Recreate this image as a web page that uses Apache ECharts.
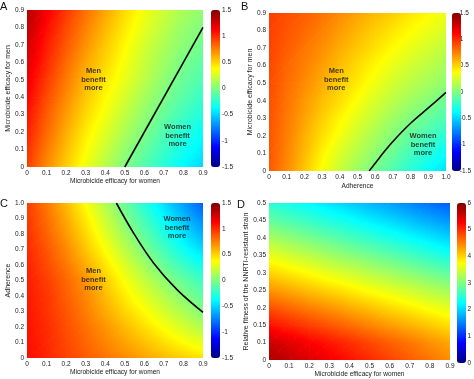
<!DOCTYPE html>
<html><head><meta charset="utf-8">
<script src="https://cdn.jsdelivr.net/npm/echarts@6/dist/echarts.min.js"></script>
<style>html,body{margin:0;padding:0;background:#fff}#c{width:474px;height:379px}</style>
</head><body><div id="c"></div>
<script>
// ---------- DATA (values read at grid nodes) ----------
// Panel A: x = microbicide efficacy for women, y = microbicide efficacy for men
const A_x = [0,0.1,0.2,0.3,0.4,0.5,0.6,0.7,0.8,0.9];
const A_y = [0,0.1,0.2,0.3,0.4,0.5,0.6,0.7,0.8,0.9];
const A_values = [
 [0.95,0.72,0.52,0.33,0.16,0.00,-0.14,-0.27,-0.39,-0.50],
 [0.99,0.77,0.57,0.38,0.22,0.06,-0.08,-0.21,-0.32,-0.43],
 [1.04,0.82,0.62,0.43,0.28,0.13,-0.01,-0.14,-0.26,-0.36],
 [1.08,0.86,0.67,0.49,0.34,0.19,0.05,-0.08,-0.19,-0.29],
 [1.13,0.91,0.72,0.54,0.39,0.25,0.11,-0.01,-0.12,-0.22],
 [1.17,0.96,0.77,0.59,0.45,0.31,0.17,0.04,-0.07,-0.15],
 [1.22,1.01,0.82,0.64,0.50,0.35,0.21,0.09,-0.02,-0.10],
 [1.26,1.05,0.87,0.70,0.54,0.39,0.25,0.13,0.03,-0.05],
 [1.31,1.10,0.92,0.75,0.59,0.44,0.30,0.18,0.07,0.00],
 [1.35,1.15,0.97,0.80,0.64,0.48,0.34,0.22,0.12,0.05]
];
const A_contour = [[0.5,0],[0.9,0.8]];

// Panel B: x = adherence, y = microbicide efficacy for men
const B_x = [0,0.1,0.2,0.3,0.4,0.5,0.6,0.7,0.8,0.9,1.0];
const B_y = [0,0.1,0.2,0.3,0.4,0.5,0.6,0.7,0.8,0.9];
const B_values = [
 [0.87,0.72,0.54,0.36,0.21,0.08,-0.04,-0.15,-0.27,-0.37,-0.47],
 [0.88,0.74,0.58,0.41,0.27,0.15,0.04,-0.07,-0.18,-0.27,-0.37],
 [0.88,0.76,0.61,0.47,0.34,0.22,0.11,0.01,-0.09,-0.17,-0.26],
 [0.89,0.77,0.65,0.52,0.40,0.29,0.19,0.09,0.00,-0.08,-0.16],
 [0.90,0.79,0.68,0.57,0.47,0.36,0.26,0.17,0.09,0.02,-0.05],
 [0.91,0.81,0.72,0.62,0.52,0.43,0.33,0.24,0.17,0.11,0.04],
 [0.92,0.83,0.75,0.66,0.57,0.48,0.39,0.31,0.24,0.18,0.11],
 [0.93,0.86,0.78,0.71,0.62,0.54,0.46,0.38,0.31,0.25,0.18],
 [0.94,0.88,0.82,0.75,0.67,0.59,0.52,0.45,0.38,0.32,0.26],
 [0.95,0.90,0.85,0.79,0.72,0.65,0.58,0.52,0.45,0.39,0.33]
];
const B_contour = [[0.566,0],[0.62,0.07],[0.69,0.157],[0.80,0.272],[0.915,0.372],[1.0,0.448]];

// Panel C: x = microbicide efficacy for women, y = adherence
const C_x = [0,0.1,0.2,0.3,0.4,0.5,0.6,0.7,0.8,0.9];
const C_y = [0,0.1,0.2,0.3,0.4,0.5,0.6,0.7,0.8,0.9,1.0];
const C_values = [
 [1.10,1.02,0.94,0.86,0.79,0.72,0.65,0.58,0.52,0.46],
 [1.09,1.01,0.92,0.83,0.74,0.65,0.56,0.47,0.38,0.30],
 [1.08,1.00,0.90,0.80,0.69,0.58,0.47,0.36,0.25,0.14],
 [1.07,0.98,0.88,0.76,0.63,0.50,0.38,0.25,0.13,0.01],
 [1.06,0.97,0.85,0.73,0.58,0.43,0.29,0.15,0.02,-0.10],
 [1.05,0.95,0.83,0.69,0.53,0.36,0.20,0.05,-0.08,-0.20],
 [1.03,0.91,0.78,0.62,0.45,0.27,0.10,-0.07,-0.21,-0.34],
 [1.01,0.88,0.73,0.55,0.37,0.18,-0.01,-0.18,-0.34,-0.48],
 [0.99,0.84,0.68,0.49,0.29,0.09,-0.10,-0.29,-0.45,-0.61],
 [0.97,0.81,0.63,0.43,0.22,0.01,-0.19,-0.38,-0.56,-0.73],
 [0.95,0.78,0.58,0.37,0.14,-0.07,-0.27,-0.47,-0.66,-0.85]
];
const C_contour = [[0.457,1.0],[0.545,0.806],[0.647,0.613],[0.767,0.441],[0.9,0.295]];

// Panel D: x = microbicide efficacy for women, y = relative fitness of the NNRTI-resistant strain
const D_x = [0,0.1,0.2,0.3,0.4,0.5,0.6,0.7,0.8,0.9];
const D_y = [0.05,0.1,0.15,0.2,0.25,0.3,0.35,0.4,0.45,0.5];
const D_values = [
 [5.75,5.60,5.46,5.31,5.16,5.02,4.87,4.72,4.58,4.43],
 [5.56,5.42,5.27,5.13,4.99,4.84,4.70,4.56,4.41,4.27],
 [5.17,5.03,4.89,4.76,4.62,4.48,4.34,4.21,4.07,3.93],
 [4.78,4.65,4.51,4.38,4.24,4.11,3.97,3.84,3.70,3.57],
 [4.39,4.26,4.12,3.99,3.86,3.72,3.59,3.46,3.32,3.19],
 [4.01,3.87,3.74,3.60,3.47,3.33,3.20,3.06,2.92,2.79],
 [3.62,3.48,3.34,3.20,3.06,2.93,2.79,2.65,2.51,2.37],
 [3.23,3.09,2.95,2.81,2.67,2.54,2.40,2.26,2.12,1.98],
 [2.84,2.70,2.57,2.43,2.30,2.16,2.03,1.89,1.75,1.62],
 [2.50,2.36,2.23,2.09,1.96,1.82,1.69,1.55,1.41,1.28]
];
const D_yTickLabels = {0.05:'0'};   // bottom tick of panel D is printed as "0"

// Annotations [x, y] in data units
const notesA = [{t:'Men\nbenefit\nmore', p:[0.34,0.50]}, {t:'Women\nbenefit\nmore', p:[0.77,0.18]}];
const notesB = [{t:'Men\nbenefit\nmore', p:[0.38,0.52]}, {t:'Women\nbenefit\nmore', p:[0.87,0.15]}];
const notesC = [{t:'Men\nbenefit\nmore', p:[0.34,0.505]}, {t:'Women\nbenefit\nmore', p:[0.767,0.84]}];

// ---------- CHART ----------
const jet = ['#000080','#0000ff','#0080ff','#00ffff','#80ff80','#ffff00','#ff8000','#ff0000','#800000'];
const FONT = 'Liberation Sans';
const TXT = '#222';

const panels = [
 {letter:'A', grid:{left:27,top:10,width:176,height:157}, cbar:{left:211,top:10,width:9,height:157},
  xs:A_x, ys:A_y, vals:A_values, xmax:0.9, ymin:0, ymax:0.9, yint:0.1,
  xName:'Microbicide efficacy for women', yName:'Microbicide efficacy for men', vmin:-1.5, vmax:1.5, vint:0.5,
  contour:A_contour, notes:notesA, letterPos:[0,1], tickMap:{}},
 {letter:'B', grid:{left:269,top:13,width:177,height:158}, cbar:{left:452,top:13,width:9,height:158},
  xs:B_x, ys:B_y, vals:B_values, xmax:1.0, ymin:0, ymax:0.9, yint:0.1,
  xName:'Adherence', yName:'Microbicide efficacy for men', vmin:-1.5, vmax:1.5, vint:0.5,
  contour:B_contour, notes:notesB, letterPos:[241,1], tickMap:{}},
 {letter:'C', grid:{left:27,top:203,width:176,height:155}, cbar:{left:211,top:203,width:9,height:155},
  xs:C_x, ys:C_y, vals:C_values, xmax:0.9, ymin:0, ymax:1.0, yint:0.1,
  xName:'Microbicide efficacy for women', yName:'Adherence', vmin:-1.5, vmax:1.5, vint:0.5,
  contour:C_contour, notes:notesC, letterPos:[0,198], tickMap:{}},
 {letter:'D', grid:{left:269,top:203,width:181,height:160}, cbar:{left:457,top:203,width:9,height:160},
  xs:D_x, ys:D_y, vals:D_values, xmax:0.9, ymin:0.05, ymax:0.5, yint:0.05,
  xName:'Microbicide efficacy for women', yName:'Relative fitness of the NNRTI-resistant strain', vmin:0, vmax:6, vint:1,
  contour:null, notes:[], letterPos:[237,199], tickMap:D_yTickLabels}
];

function fmt(v){ const r = Math.round(v*1000)/1000; return (r===1) ? '1.0' : String(r); }

// smooth colouring of each grid quad: two triangles, each filled with a linear gradient along its plane
function triStyle(P, V, lo, hi) {
  const [x1,y1]=P[0],[x2,y2]=P[1],[x3,y3]=P[2];
  const [v1,v2,v3]=V;
  const det=(x2-x1)*(y3-y1)-(x3-x1)*(y2-y1);
  const col = v => echarts.color.lerp(Math.min(1,Math.max(0,(v-lo)/(hi-lo))), jet);
  const vmin=Math.min(v1,v2,v3), vmax=Math.max(v1,v2,v3);
  if (Math.abs(det)<1e-9 || vmax-vmin<1e-6) return col((v1+v2+v3)/3);
  const b=((v2-v1)*(y3-y1)-(v3-v1)*(y2-y1))/det;
  const c=((x2-x1)*(v3-v1)-(x3-x1)*(v2-v1))/det;
  const g2=b*b+c*c;
  const k=V.indexOf(vmin); const S=P[k];
  const s=(vmax-vmin)/g2;
  const E=[S[0]+b*s, S[1]+c*s];
  const stops=[{offset:0,color:col(vmin)}];
  for (let q=1;q<8;q++){ const vk=lo+(hi-lo)*q/8; if (vk>vmin && vk<vmax) stops.push({offset:(vk-vmin)/(vmax-vmin), color:col(vk)}); }
  stops.push({offset:1,color:col(vmax)});
  return new echarts.graphic.LinearGradient(S[0],S[1],E[0],E[1],stops,true);
}

const option = {animation:false, grid:[], xAxis:[], yAxis:[], series:[], visualMap:[], graphic:[]};
panels.forEach((p,k)=>{
  const g = option.grid.length;
  option.grid.push(Object.assign({}, p.grid));
  option.grid.push(Object.assign({}, p.cbar));
  const xa = option.xAxis.length, ya = option.yAxis.length;
  const lbl = {fontSize:6.5, color:TXT, fontFamily:FONT};
  option.xAxis.push({type:'value', gridIndex:g, position:'bottom', min:0, max:p.xmax, interval:0.1,
    name:p.xName, nameLocation:'middle', nameGap:(k===1?12:10), nameTextStyle:{fontSize:6.6, color:TXT, fontFamily:FONT},
    axisLine:{show:false}, axisTick:{show:false}, splitLine:{show:false},
    axisLabel:Object.assign({margin:3, formatter:fmt}, lbl)});
  option.yAxis.push({type:'value', gridIndex:g, position:'left', min:p.ymin, max:p.ymax, interval:p.yint,
    name:p.yName, nameLocation:'middle', nameGap:15, nameTextStyle:{fontSize:7, color:TXT, fontFamily:FONT},
    axisLine:{show:false}, axisTick:{show:false}, splitLine:{show:false},
    axisLabel:Object.assign({margin:3, formatter:v=>{const r=Math.round(v*1000)/1000; return (r in p.tickMap)?p.tickMap[r]:fmt(v);}}, lbl)});
  option.xAxis.push({type:'value', gridIndex:g+1, min:0, max:1, show:false});
  option.yAxis.push({type:'value', gridIndex:g+1, position:'right', min:p.vmin, max:p.vmax, interval:p.vint,
    axisLine:{show:false}, axisTick:{show:false}, splitLine:{show:false},
    axisLabel:Object.assign({margin:2, formatter:v=>String(Math.round(v*10)/10)}, lbl)});
  // quads built from node arrays
  const quads=[];
  for (let j=0;j<p.ys.length-1;j++) for (let i=0;i<p.xs.length-1;i++)
    quads.push([p.xs[i],p.ys[j],p.xs[i+1],p.ys[j+1],p.vals[j][i],p.vals[j][i+1],p.vals[j+1][i],p.vals[j+1][i+1]]);
  const lo=p.vmin, hi=p.vmax;
  const si = option.series.length;
  option.series.push({type:'custom', xAxisIndex:xa, yAxisIndex:ya, data:quads, clip:true, silent:true,
    encode:{x:[0,2], y:[1,3]},
    renderItem:(params, api)=>{
      const x0=api.value(0), y0=api.value(1), x1=api.value(2), y1=api.value(3);
      const v00=api.value(4), v10=api.value(5), v01=api.value(6), v11=api.value(7);
      const p00=api.coord([x0,y0]), p10=api.coord([x1,y0]), p01=api.coord([x0,y1]), p11=api.coord([x1,y1]);
      const t1=[p00,p10,p11], t2=[p00,p11,p01];
      const s1=triStyle(t1,[v00,v10,v11],lo,hi), s2=triStyle(t2,[v00,v11,v01],lo,hi);
      return {type:'group', children:[
        {type:'polygon', shape:{points:t1}, style:{fill:s1, stroke:s1, lineWidth:0.9}},
        {type:'polygon', shape:{points:t2}, style:{fill:s2, stroke:s2, lineWidth:0.9}}
      ]};
    }});
  option.visualMap.push({type:'continuous', seriesIndex:si, min:p.vmin, max:p.vmax, dimension:4,
    inRange:{color:jet}, calculable:false, hoverLink:false, text:null, padding:0,
    left:p.cbar.left, top:p.cbar.top, itemWidth:p.cbar.width, itemHeight:p.cbar.height, orient:'vertical'});
  if (p.contour) {
    option.series.push({type:'line', xAxisIndex:xa, yAxisIndex:ya, data:p.contour, smooth:0.4,
      symbol:'none', lineStyle:{color:'#000', width:1.6}, silent:true, z:5});
  }
  if (p.notes.length) {
    option.series.push({type:'scatter', xAxisIndex:xa, yAxisIndex:ya, symbolSize:0, silent:true, z:6,
      data:p.notes.map(n=>({name:n.t, value:n.p})),
      label:{show:true, position:'inside', formatter:'{b}', fontSize:7.5, lineHeight:8.5, fontWeight:'bold',
        color:'#111', fontFamily:FONT, align:'center'}});
  }
  option.graphic.push({type:'text', left:p.letterPos[0], top:p.letterPos[1],
    style:{text:p.letter, fontSize:11, fontFamily:FONT, fill:'#111'}});
});

const chart = echarts.init(document.getElementById('c'), null, {renderer:'canvas'});
chart.setOption(option);
</script>
</body></html>
